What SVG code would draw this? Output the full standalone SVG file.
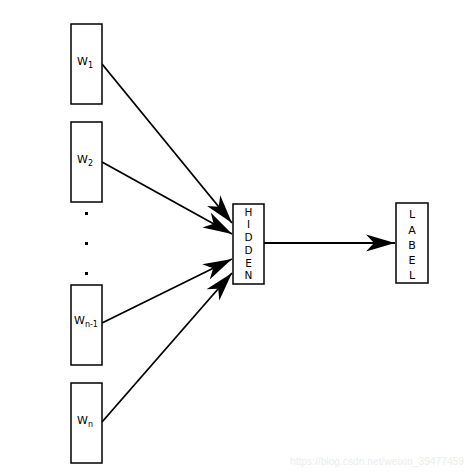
<svg xmlns="http://www.w3.org/2000/svg" width="474" height="474" viewBox="0 0 474 474">
<style>
.box{fill:#fff;stroke:#000;stroke-width:1.5}
.t{font-family:"DejaVu Sans",sans-serif;font-size:11px;fill:#000}
.s{font-size:8px}
.v{font-family:"DejaVu Sans",sans-serif;font-size:10.5px;fill:#000;text-anchor:middle}
.c{fill:none;stroke:#000;stroke-width:1.8}
.wm{font-family:"Liberation Sans",sans-serif;font-size:10.5px;fill:#ececec}
</style>
<defs>
<marker id="ah" markerUnits="userSpaceOnUse" markerWidth="34" markerHeight="22" viewBox="-32 -11 34 22" refX="0" refY="0" orient="auto">
<path d="M0,0 L-29,-8.5 L-21,0 L-29,8.5 Z" fill="#000"/>
</marker>
</defs>
<rect width="474" height="474" fill="#fff"/>
<g id="connectors">
<line class="c" x1="102" y1="64" x2="232" y2="223" marker-end="url(#ah)"/>
<line class="c" x1="102" y1="162" x2="232" y2="234" marker-end="url(#ah)"/>
<line class="c" x1="102" y1="323" x2="232" y2="259" marker-end="url(#ah)"/>
<line class="c" x1="102" y1="422" x2="232" y2="273" marker-end="url(#ah)"/>
<line class="c" x1="264" y1="243" x2="395" y2="243" marker-end="url(#ah)"/>
</g>
<g id="w1"><rect class="box" x="71" y="24" width="31" height="80"/><text class="t" x="77" y="65">W<tspan class="s" dy="3">1</tspan></text></g>
<g id="w2"><rect class="box" x="71" y="122" width="31" height="80"/><text class="t" x="77" y="163">W<tspan class="s" dy="3">2</tspan></text></g>
<g id="dots">
<rect x="85" y="212" width="3" height="3" fill="#000"/>
<rect x="85" y="242" width="3" height="3" fill="#000"/>
<rect x="85" y="272" width="3" height="3" fill="#000"/>
</g>
<g id="wn1"><rect class="box" x="71" y="285" width="31" height="80"/><text class="t" x="74" y="324">W<tspan class="s" dy="3">n-1</tspan></text></g>
<g id="wn"><rect class="box" x="71" y="383" width="31" height="80"/><text class="t" x="77" y="424">W<tspan class="s" dy="3">n</tspan></text></g>
<g id="hidden"><rect class="box" x="233" y="204" width="31" height="80"/>
<text class="v" x="248.5" y="216">H</text>
<text class="v" x="248.5" y="228">I</text>
<text class="v" x="248.5" y="241">D</text>
<text class="v" x="248.5" y="254">D</text>
<text class="v" x="248.5" y="267">E</text>
<text class="v" x="248.5" y="279">N</text>
</g>
<g id="label"><rect class="box" x="396" y="203" width="32" height="80"/>
<text class="v" x="412" y="218" style="font-size:11px">L</text>
<text class="v" x="412" y="234" style="font-size:11px">A</text>
<text class="v" x="412" y="249" style="font-size:11px">B</text>
<text class="v" x="412" y="264" style="font-size:11px">E</text>
<text class="v" x="412" y="279" style="font-size:11px">L</text>
</g>
<text class="wm" x="290" y="465" textLength="174" lengthAdjust="spacingAndGlyphs">https://blog.csdn.net/weixin_39477459</text>
</svg>
